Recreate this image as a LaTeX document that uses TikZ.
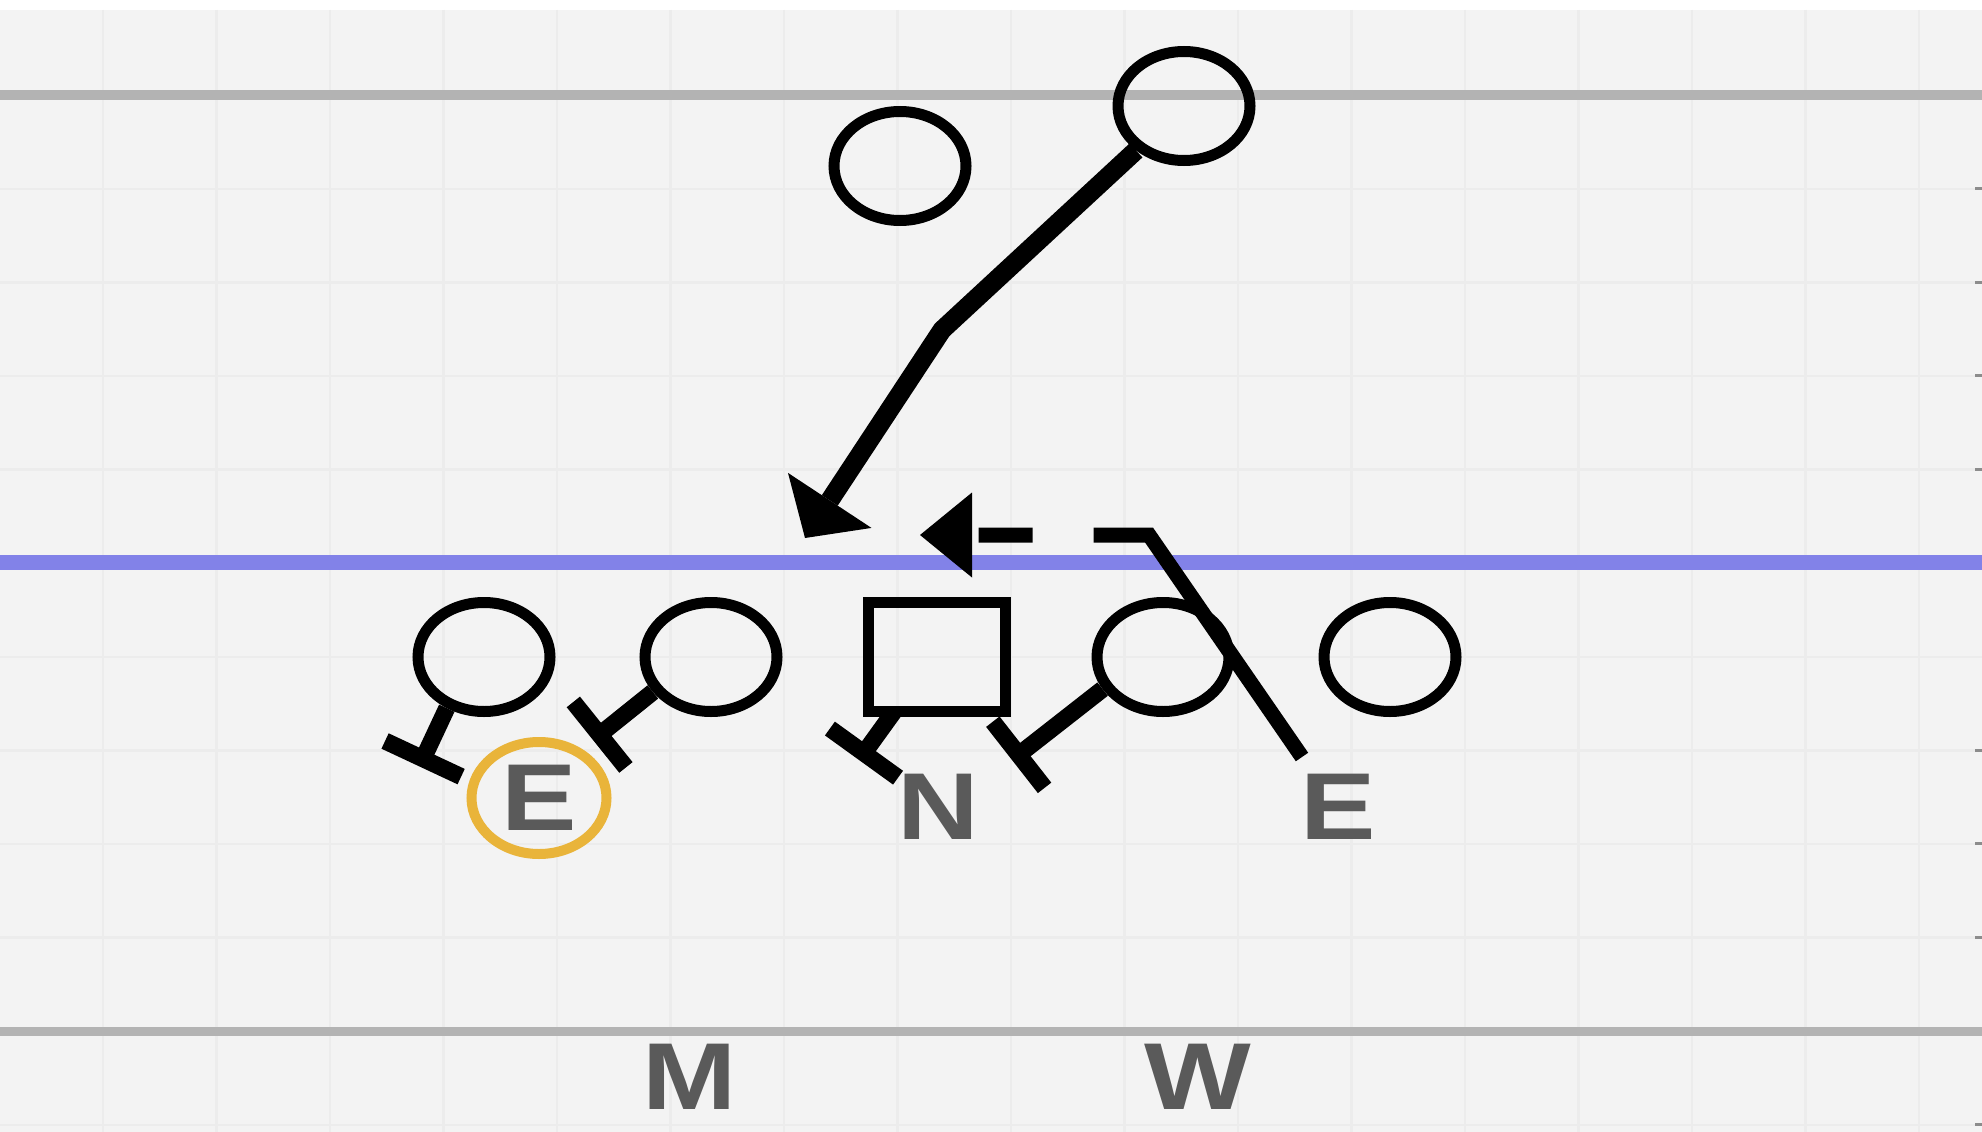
\documentclass[tikz,border=0pt]{standalone}
\usepackage{fontspec}
\setmainfont{Liberation Sans}
\usetikzlibrary{arrows.meta,shapes.geometric,calc}
\definecolor{bg}{RGB}{243,243,243}
\definecolor{gridc}{RGB}{236,236,236}
\definecolor{fieldline}{RGB}{179,179,179}
\definecolor{los}{RGB}{130,130,232}
\definecolor{txt}{RGB}{90,90,90}
\definecolor{hl}{RGB}{233,180,58}
\definecolor{tick}{RGB}{140,140,140}
\begin{document}
\begin{tikzpicture}[x=1pt,y=-1pt,
  player/.style={ellipse,draw=black,line width=11pt,minimum width=132pt,minimum height=109pt,inner sep=0pt},
  ctr/.style={rectangle,draw=black,line width=11pt,minimum width=137pt,minimum height=109pt,inner sep=0pt,outer sep=0pt},
  lbl/.style={text=txt,inner sep=0pt,font=\fontsize{95}{95}\selectfont\bfseries},
  block/.style={line width=17pt,-{Bar[width=84pt]}},
  route/.style={line width=19pt,line join=miter,-{Triangle[length=45pt,width=100pt,line width=0pt]}},
  motion/.style={line width=15pt,line join=miter,dash pattern=on 325pt off 61pt on 54pt off 200pt,-{Triangle[length=52pt,width=85pt,line width=0pt]}},
  gridline/.style={draw=gridc,line width=2.5pt},
  bigline/.style={draw=fieldline,line width=9pt},
]
\useasboundingbox (0,0) rectangle (1982,1132);
\fill[white] (0,0) rectangle (1982,1132);
\fill[bg] (0,10) rectangle (1982,1132);
% faint grid
\foreach \k in {0,...,16} {\draw[gridline] ({103+113.5*\k},10) -- ({103+113.5*\k},1132);}
\foreach \k in {1,...,12} {\draw[gridline] (0,{1.6+93.6*\k}) -- (1982,{1.6+93.6*\k});}
% right edge ticks
\foreach \yy in {188.6,282.2,375.8,469.4,750.2,843.8,937.4,1124.6} {\draw[tick,line width=3pt] (1975,\yy) -- (1982,\yy);}
% field lines
\draw[bigline] (0,95) -- (1982,95);
\draw[bigline] (0,1031) -- (1982,1031);
\draw[draw=los,line width=15pt] (0,562.5) -- (1982,562.5);
% players
\node[player] (S1) at (900,166) {};
\node[player] (S2) at (1184,106) {};
\node[player] (C1) at (484,657) {};
\node[player] (C2) at (711,657) {};
\node[ctr] (SQ) at (937,657) {};
\node[player] (C3) at (1163,657) {};
\node[player] (C4) at (1390,657) {};
% labels
\node[lbl,ellipse,draw=hl,line width=10pt,minimum width=135pt,minimum height=112pt] (E1) at (539,798) {\scalebox{1.19}[1]{E}};
\node[lbl] (N) at (938,807) {\scalebox{1.19}[1]{N}};
\node[lbl] (E2) at (1338,807) {\scalebox{1.19}[1]{E}};
\node[lbl] (M) at (690,1077) {\scalebox{1.19}[1]{M}};
\node[lbl] (W) at (1198,1077) {\scalebox{1.19}[1]{W}};
% block ends
\coordinate (k1) at (419.5,766.5);
\coordinate (k2) at (593,740);
\coordinate (k3) at (859,760);
\coordinate (k4) at (1012,760);
\draw[block] (C1.234) -- (k1);
\draw[block] (C2.211) -- (k2);
\draw[block] ($(SQ.south)+(-43,0)$) -- (k3);
\draw[block] (C3.208) -- (k4);
% route of the deep player
\coordinate (rb) at (942,330);
\coordinate (rt) at (805,538);
\draw[route] (S2) -- (rb) -- (rt);
% motion of the end
\coordinate (eS) at (1302,757);
\coordinate (eC) at (1149,535);
\coordinate (dt) at (920,535);
\draw[motion] (eS) -- (eC) -- (dt);
\end{tikzpicture}
\end{document}
